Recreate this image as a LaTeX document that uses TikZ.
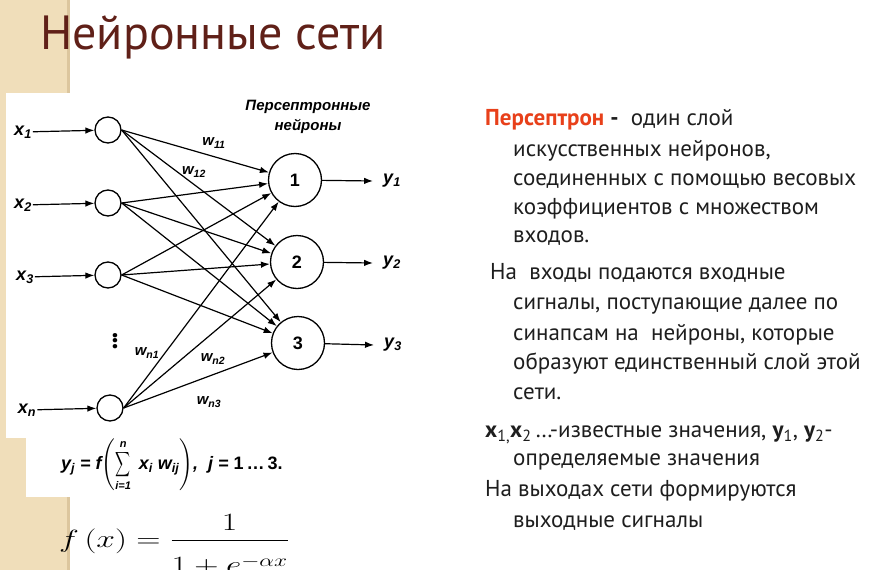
\documentclass[tikz,border=0pt]{standalone}
\usepackage{amsmath}
\usepackage{graphicx}
\usepackage{fontspec}
\setmainfont{PT Sans}
\newfontfamily\netfont{Liberation Sans}
\usetikzlibrary{positioning,arrows.meta}

\definecolor{stripe}{RGB}{240,222,186}
\definecolor{stripeedge}{RGB}{220,198,158}
\definecolor{titlebrown}{RGB}{96,32,24}
\definecolor{accent}{RGB}{232,64,26}
\definecolor{bodytext}{RGB}{30,30,30}

\newcommand{\limtext}[1]{\mbox{\fontsize{11}{11}\selectfont #1}}

\begin{document}
\begin{tikzpicture}[
    x=1pt, y=-1pt,
    >={Latex[length=9pt,width=6.5pt]},
    inp/.style={circle,draw,line width=1.3pt,minimum size=26pt,inner sep=0pt},
    neuron/.style={circle,draw,line width=1.3pt,minimum size=53pt,inner sep=0pt,font=\netfont\bfseries\fontsize{18}{18}\selectfont},
    lbl/.style={inner sep=1pt,font=\netfont\bfseries\itshape\fontsize{18}{18}\selectfont},
    wlbl/.style={inner sep=0pt,font=\netfont\bfseries\itshape\fontsize{15}{15}\selectfont},
    arrow/.style={->,line width=1.2pt},
    txt/.style={anchor=mid west,inner sep=0pt,text=bodytext,font=\fontsize{23}{23}\selectfont}
]

% фон и полоса слева
\useasboundingbox (0,0) rectangle (894,570);
\clip (0,0) rectangle (894,570);
\fill[white] (0,0) rectangle (894,570);
\fill[stripe] (0,0) rectangle (70,570);
\fill[stripeedge] (67,0) rectangle (70,570);
\fill[white] (6,93) rectangle (455,438);
\fill[white] (26,438) rectangle (300,497);

% заголовок
\node[anchor=base west,inner sep=0pt,text=titlebrown,font=\fontsize{48}{48}\selectfont] (title) at (40,49) {Нейронные сети};

% входы
\node[inp] (i1) at (108,130) {};
\node[inp] (i2) at (108,203) {};
\node[inp] (i3) at (108,275) {};
\node[inp] (in) at (110,408) {};
\node[lbl] (x1) at (23,132) {x\textsubscript{1}};
\node[lbl] (x2) at (23,205) {x\textsubscript{2}};
\node[lbl] (x3) at (25,277) {x\textsubscript{3}};
\node[lbl] (xn) at (27,410) {x\textsubscript{\itshape n}};
\node[inner sep=0pt,font=\bfseries\fontsize{28}{28}\selectfont] (dots) at (115,338) {$\vdots$};

% нейроны
\node[neuron] (o1) at (295,180) {1};
\node[neuron] (o2) at (297,262) {2};
\node[neuron] (o3) at (298,343) {3};
\node[lbl] (y1) at (392,181) {y\textsubscript{1}};
\node[lbl] (y2) at (392,263) {y\textsubscript{2}};
\node[lbl] (y3) at (393,345) {y\textsubscript{3}};
\node[align=center,font=\netfont\bfseries\itshape\fontsize{15}{20}\selectfont] (head) at (308,117) {Персептронные\\нейроны};

% связи
\foreach \s in {1,2,3,n}
  \draw[arrow] (x\s) -- (i\s);
\foreach \s in {1,2,3,n}
  \foreach \t in {1,2,3}
    \draw[arrow] (i\s.east) -- (o\t);
\foreach \t in {1,2,3}
  \draw[arrow] (o\t) -- ([xshift=-9pt]y\t.west);

% веса
\node[wlbl] (w11) at (214,143) {w\textsubscript{11}};
\node[wlbl] (w12) at (194,172) {w\textsubscript{12}};
\node[wlbl] (wn1) at (147,353) {w\textsubscript{\itshape n1}};
\node[wlbl] (wn2) at (213,359) {w\textsubscript{\itshape n2}};
\node[wlbl] (wn3) at (209,402) {w\textsubscript{\itshape n3}};

% формулы
\node[anchor=west,inner sep=0pt,font=\netfont\bfseries\itshape\fontsize{18}{18}\selectfont] (sum) at (61,465)
  {y\textsubscript{j} = f$\left(\mathop{\scalebox{0.6}[1]{$\displaystyle\sum$}}\limits_{\limtext{i=1}}^{\limtext{n}}\mbox{ x\textsubscript{i} w\textsubscript{ij}}\right)$, \ j = \upshape 1\,\dots\,3.};
\node[anchor=base west,inner sep=0pt,font=\fontsize{27}{27}\selectfont] (sigm) at (59,547)
  {\scalebox{1.35}[1]{$f\,(x) = \dfrac{1}{\rule{0pt}{29pt}1+e^{-\alpha x}}$}};

% текст справа
\node[txt] (t1) at (485,123) {\textcolor{accent}{\bfseries Персептрон} {\bfseries -}\ \ один слой};
\node[txt] (t2) at (513,154) {искусственных нейронов,};
\node[txt] (t3) at (513,183) {соединенных с помощью весовых};
\node[txt] (t4) at (513,212) {коэффициентов с множеством};
\node[txt] (t5) at (513,240) {входов.};
\node[txt] (t6) at (490,277) {На\ \ входы подаются входные};
\node[txt] (t7) at (513,307) {сигналы, поступающие далее по};
\node[txt] (t8) at (513,338) {синапсам на\ \ нейроны, которые};
\node[txt] (t9) at (513,367) {образуют единственный слой этой};
\node[txt] (t10) at (513,397) {сети.};
\node[txt] (t11) at (485,435) {{\bfseries x}\textsubscript{1,}{\bfseries x}\textsubscript{2}\,\dots-известные значения, {\bfseries y}\textsubscript{1}, {\bfseries y}\textsubscript{2}-};
\node[txt] (t12) at (513,463) {определяемые значения};
\node[txt] (t13) at (485,494) {На выходах сети формируются};
\node[txt] (t14) at (513,525) {выходные сигналы};

\end{tikzpicture}
\end{document}
